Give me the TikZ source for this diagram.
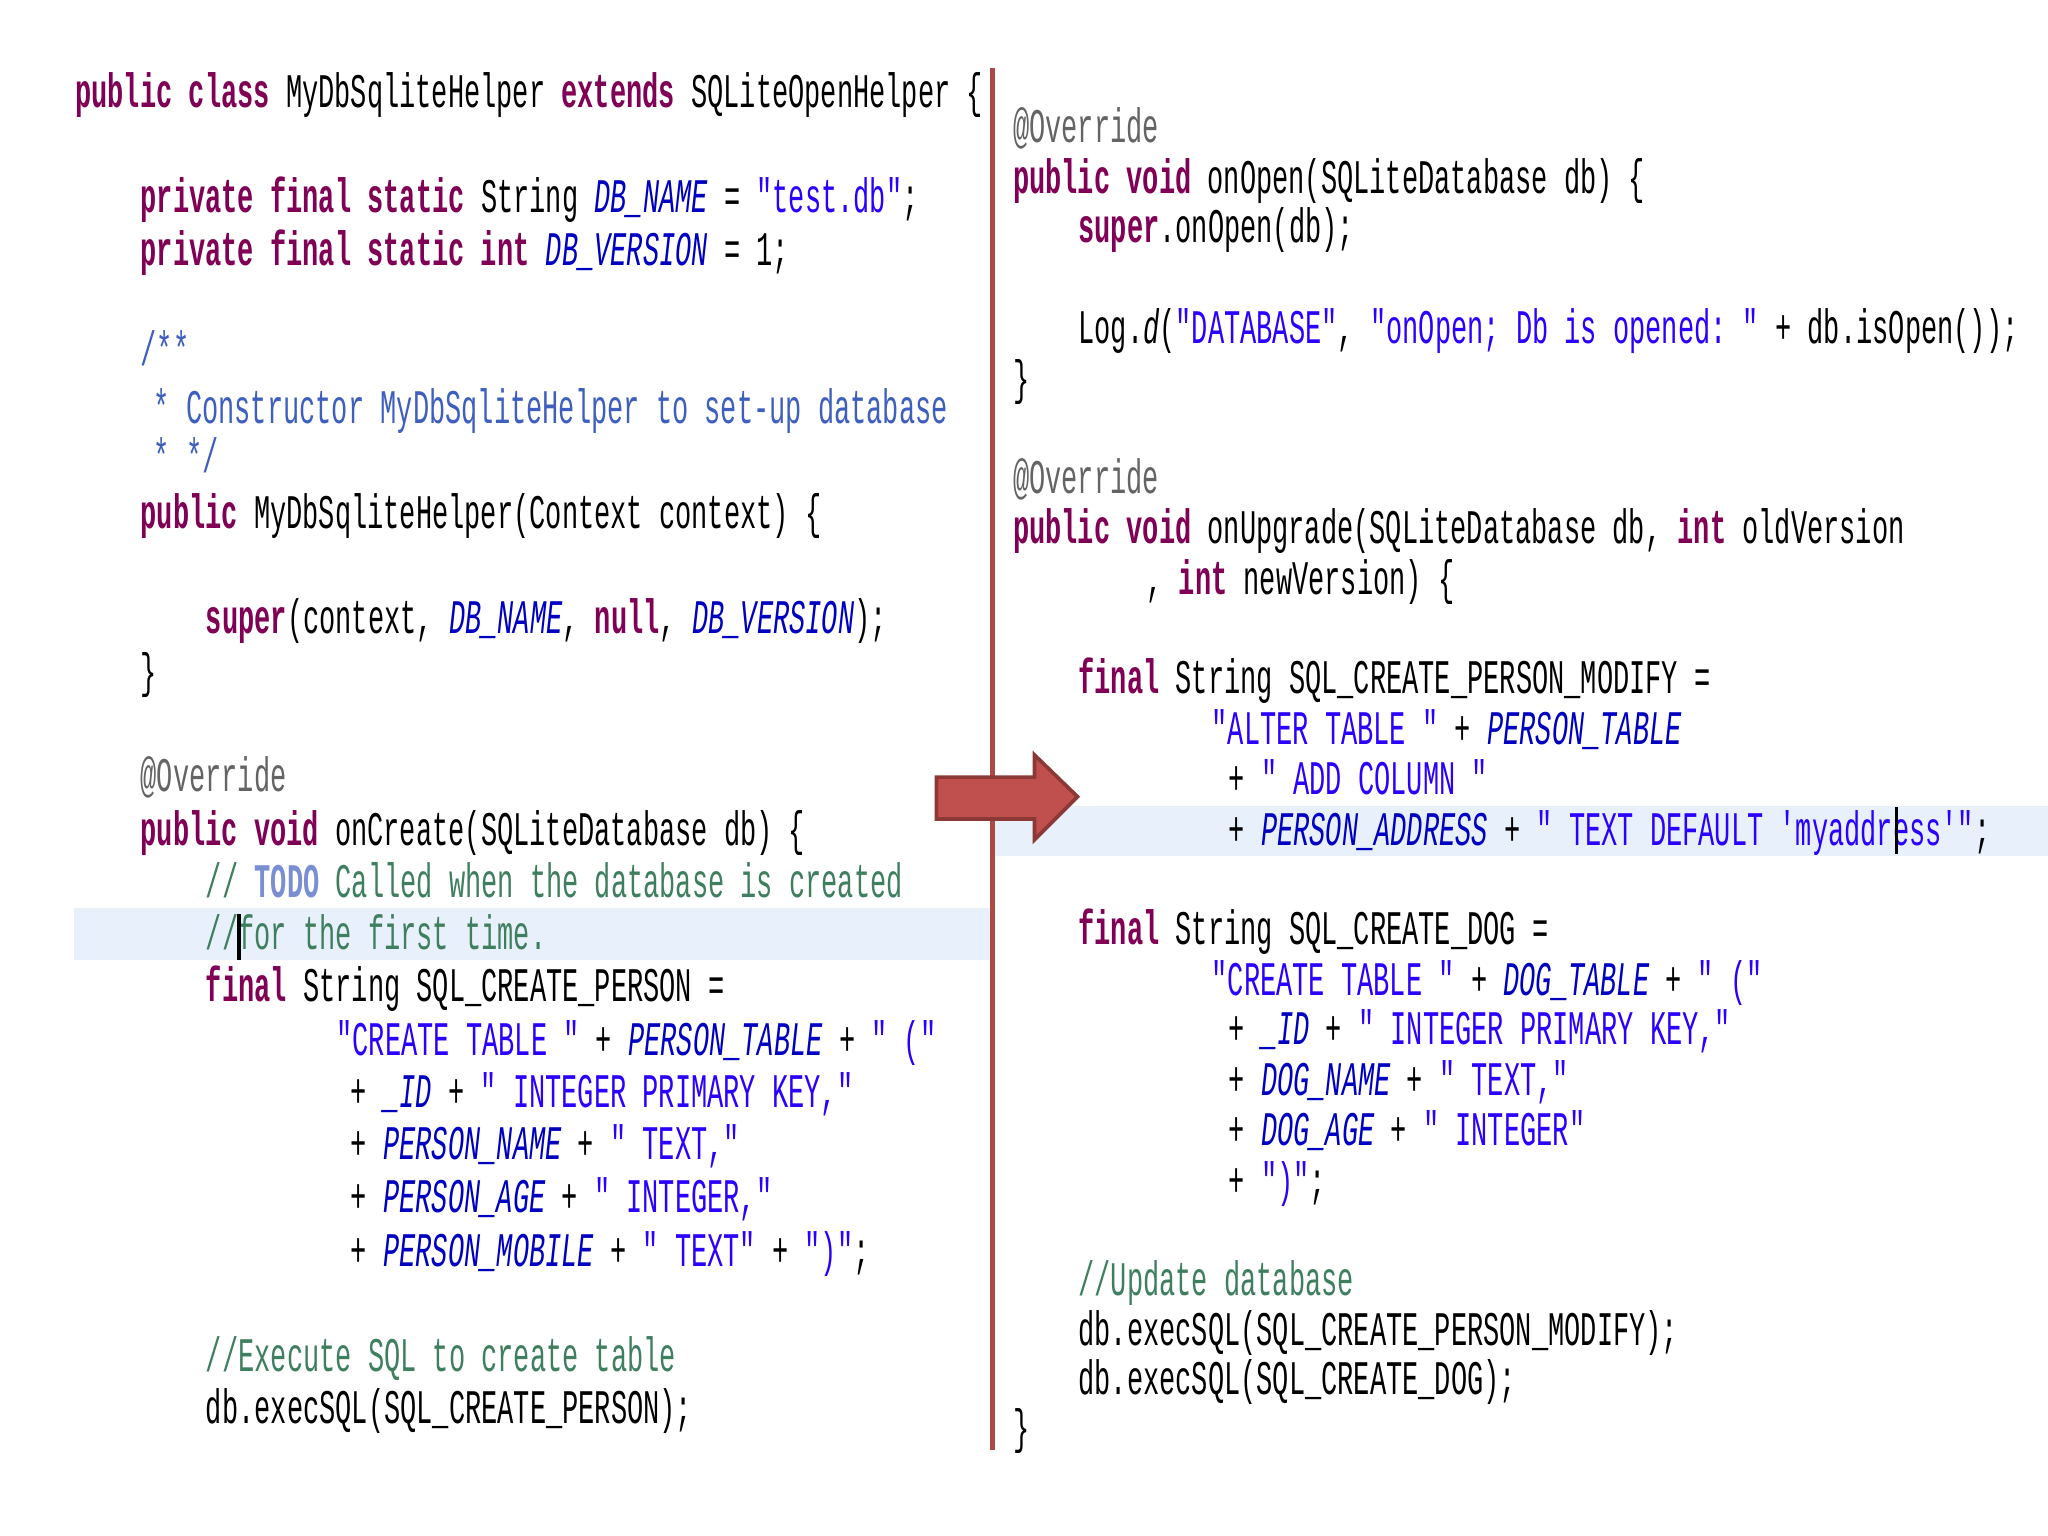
\documentclass[tikz,border=0pt]{standalone}
\usepackage{fontspec}
\setmonofont{Liberation Mono}
\usepackage{graphicx}
\definecolor{kwc}{HTML}{7F0055}
\definecolor{cnc}{HTML}{0000C0}
\definecolor{stc}{HTML}{2A00FF}
\definecolor{cmc}{HTML}{3F7F5F}
\definecolor{jdc}{HTML}{3F5FBF}
\definecolor{anc}{HTML}{646464}
\definecolor{hlc}{HTML}{E8F0FB}
\definecolor{arf}{HTML}{C0504D}
\definecolor{ard}{HTML}{8C3836}
\newcommand\kw[1]{\textcolor{kwc}{\bfseries #1}}
\newcommand\cn[1]{\textcolor{cnc}{\itshape #1}}
\newcommand\sq[1]{\textcolor{stc}{#1}}
\newcommand\cm[1]{\textcolor{cmc}{#1}}
\newcommand\jd[1]{\textcolor{jdc}{#1}}
\newcommand\an[1]{\textcolor{anc}{#1}}
\newcommand\cl[3]{\node[codeline] at (#1,#2+10) {\scalebox{0.56}[1]{#3}};}
\tikzset{codeline/.style={anchor=base west,inner sep=0pt,font=\ttfamily\fontsize{10.5}{12}\selectfont}}
\begin{document}
\begin{tikzpicture}[x=0.01cm,y=-0.01cm]
\useasboundingbox (0,0) rectangle (1568,1176);
\fill[white] (0,0) rectangle (1568,1176);
\fill[hlc] (57,695) rectangle (758,735);
\fill[hlc] (762,617) rectangle (1568,655);
\draw[arf!90!black,line width=1.2pt] (760,52) -- (760,1110);
% left
\cl{57}{72}{\kw{public class} MyDbSqliteHelper \kw{extends} SQLiteOpenHelper \{}
\cl{107}{153}{\kw{private final static} String \cn{DB\_NAME} = \sq{"test.db"};}
\cl{107}{193}{\kw{private final static int} \cn{DB\_VERSION} = 1;}
\cl{107}{270}{\jd{/**}}
\cl{117}{314}{\jd{* Constructor MyDbSqliteHelper to set-up database}}
\cl{117}{352}{\jd{* */}}
\cl{107}{395}{\kw{public} MyDbSqliteHelper(Context context) \{}
\cl{157}{475}{\kw{super}(context, \cn{DB\_NAME}, \kw{null}, \cn{DB\_VERSION});}
\cl{107}{516}{\}}
\cl{107}{596}{\an{@Override}}
\cl{107}{637}{\kw{public void} onCreate(SQLiteDatabase db) \{}
\cl{157}{677}{\cm{// \textcolor{jdc!70!white}{\bfseries TODO} Called when the database is created}}
\cl{157}{717}{\cm{//for the first time.}}
\cl{157}{757}{\kw{final} String SQL\_CREATE\_PERSON =}
\cl{257}{798}{\sq{"CREATE TABLE "} + \cn{PERSON\_TABLE} + \sq{" ("}}
\cl{268}{838}{+ \cn{\_ID} + \sq{" INTEGER PRIMARY KEY,"}}
\cl{268}{878}{+ \cn{PERSON\_NAME} + \sq{" TEXT,"}}
\cl{268}{918}{+ \cn{PERSON\_AGE} + \sq{" INTEGER,"}}
\cl{268}{960}{+ \cn{PERSON\_MOBILE} + \sq{" TEXT"} + \sq{")"};}
\cl{157}{1040}{\cm{//Execute SQL to create table}}
\cl{157}{1080}{db.execSQL(SQL\_CREATE\_PERSON);}
% right
\cl{775}{99}{\an{@Override}}
\cl{775}{138}{\kw{public void} onOpen(SQLiteDatabase db) \{}
\cl{825}{176}{\kw{super}.onOpen(db);}
\cl{825}{253}{Log.\textit{d}(\sq{"DATABASE"}, \sq{"onOpen; Db is opened: "} + db.isOpen());}
\cl{775}{292}{\}}
\cl{775}{368}{\an{@Override}}
\cl{775}{406}{\kw{public void} onUpgrade(SQLiteDatabase db, \kw{int} oldVersion}
\cl{877}{445}{, \kw{int} newVersion) \{}
\cl{825}{521}{\kw{final} String SQL\_CREATE\_PERSON\_MODIFY =}
\cl{927}{560}{\sq{"ALTER TABLE "} + \cn{PERSON\_TABLE}}
\cl{940}{598}{+ \sq{" ADD COLUMN "}}
\cl{940}{637}{+ \cn{PERSON\_ADDRESS} + \sq{" TEXT DEFAULT 'myaddress'"};}
\cl{825}{713}{\kw{final} String SQL\_CREATE\_DOG =}
\cl{927}{752}{\sq{"CREATE TABLE "} + \cn{DOG\_TABLE} + \sq{" ("}}
\cl{940}{790}{+ \cn{\_ID} + \sq{" INTEGER PRIMARY KEY,"}}
\cl{940}{829}{+ \cn{DOG\_NAME} + \sq{" TEXT,"}}
\cl{940}{867}{+ \cn{DOG\_AGE} + \sq{" INTEGER"}}
\cl{940}{906}{+ \sq{")"};}
\cl{825}{982}{\cm{//Update database}}
\cl{825}{1020}{db.execSQL(SQL\_CREATE\_PERSON\_MODIFY);}
\cl{825}{1058}{db.execSQL(SQL\_CREATE\_DOG);}
\cl{775}{1095}{\}}
% cursors
\draw[black,line width=0.8pt] (183,700) -- (183,735);
\draw[black,line width=0.8pt] (1452,618) -- (1452,654);
% arrow
\filldraw[fill=arf,draw=ard,line width=0.8pt] (717,595) -- (792,595) -- (792,578) -- (825,610) -- (792,643) -- (792,627) -- (717,627) -- cycle;
\end{tikzpicture}
\end{document}
